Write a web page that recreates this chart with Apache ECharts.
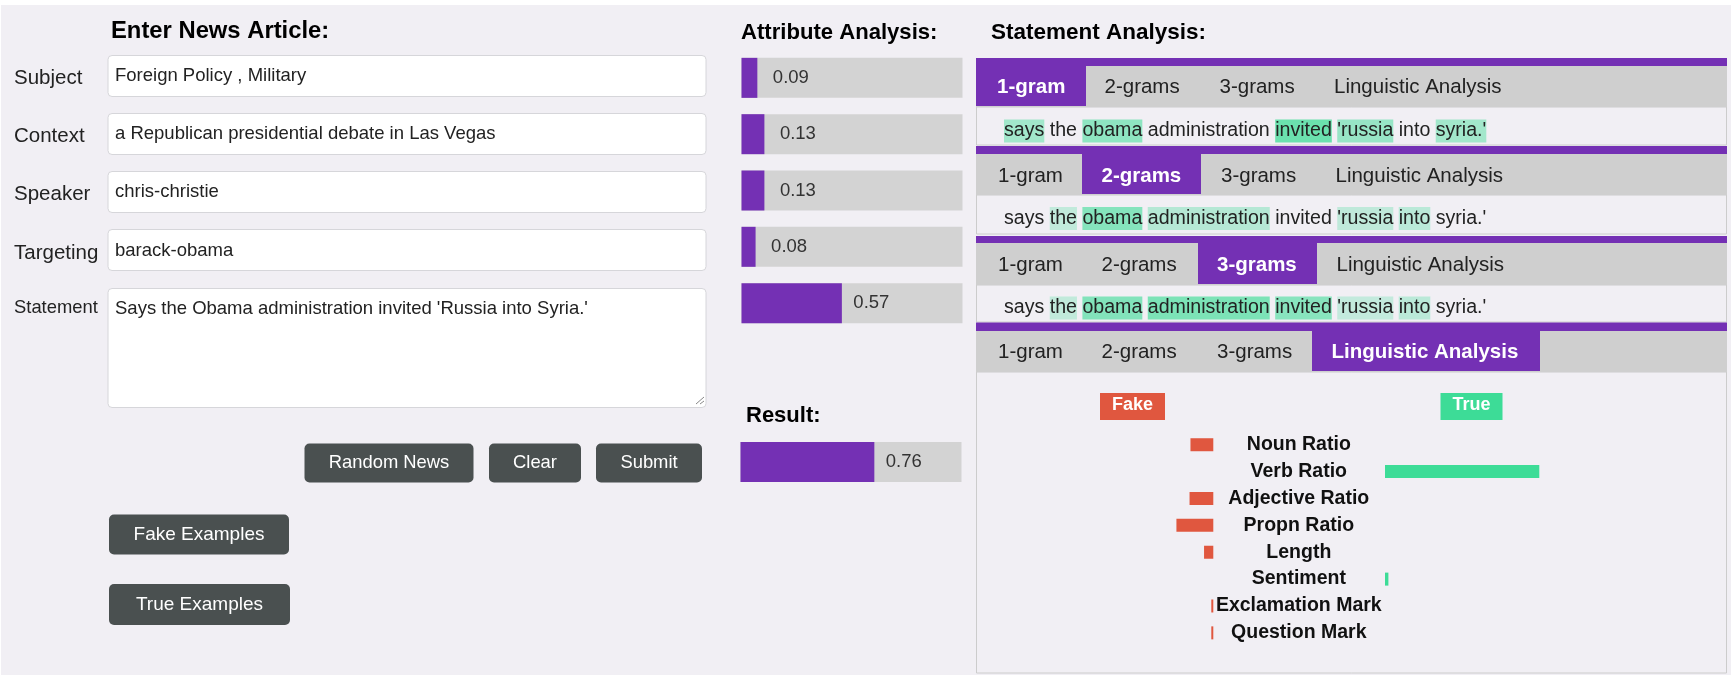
<!DOCTYPE html>
<html>
<head>
<meta charset="utf-8">
<title>Fake news analysis</title>
<script src="https://cdn.jsdelivr.net/npm/echarts@6/dist/echarts.min.js"></script>
<style>
    html, body { margin: 0; padding: 0; background: #fff; }
    #main { width: 1731px; height: 676px; }
</style>
</head>
<body>
<div id="main"></div>
<script>
var fieldLabels = ['Subject', 'Context', 'Speaker', 'Targeting', 'Statement'];
var fieldValues = ['Foreign Policy , Military', 'a Republican presidential debate in Las Vegas', 'chris-christie', 'barack-obama', "Says the Obama administration invited 'Russia into Syria.'"];

var attributeNames = ['Subject', 'Context', 'Speaker', 'Targeting', 'Statement'];
var attributeValues = [0.09, 0.13, 0.13, 0.08, 0.57];
var resultNames = ['Result'];
var resultValues = [0.76];

var tabNames = ['1-gram', '2-grams', '3-grams', 'Linguistic Analysis'];
var tokens = ['says', 'the', 'obama', 'administration', 'invited', "'russia", 'into', "syria.'"];
var oneGramWeights = [0.44, 0, 0.55, 0, 0.75, 0.5, 0, 0.44];
var twoGramWeights = [0, 0.27, 0.6, 0.33, 0, 0.28, 0.3, 0];
var threeGramWeights = [0, 0.27, 0.62, 0.65, 0.58, 0.25, 0.3, 0];

var featureNames = ['Noun Ratio', 'Verb Ratio', 'Adjective Ratio', 'Propn Ratio', 'Length', 'Sentiment', 'Exclamation Mark', 'Question Mark'];
var fakeValues = [0.148, 0, 0.154, 0.239, 0.06, 0, 0.013, 0.013];
var trueValues = [0, 1, 0, 0, 0, 0.022, 0, 0];

var FONT = '"Liberation Sans", Arial, sans-serif';
var PURPLE = '#7430b4';
var TRACK = '#d3d3d3';
var TAB_GRAY = '#cfcfcf';
var BUTTON = '#4a5050';
var PANEL = '#f1eff4';
var RED = '#e0573f';
var GREEN = '#3ddc97';

var shapes = [];

function box(x, y, w, h, fill, stroke, r) {
    shapes.push({
        type: 'rect',
        shape: {x: x, y: y, width: w, height: h, r: r || 0},
        style: {fill: fill, stroke: stroke || null, lineWidth: stroke ? 1 : 0},
        silent: true
    });
}

function label(text, x, y, size, color, bold, align) {
    shapes.push({
        type: 'text',
        x: x,
        y: y,
        style: {
            text: text,
            fill: color,
            fontFamily: FONT,
            fontSize: size,
            fontWeight: bold ? 'bold' : 'normal',
            align: align || 'left',
            verticalAlign: 'middle'
        },
        silent: true
    });
}

function button(text, x, y, w, h, size) {
    box(x, y, w, h, BUTTON, null, 5);
    label(text, x + w / 2, y + h / 2, size, '#fff', false, 'center');
}

// one row of tabs plus the highlighted sentence or empty panel below it
function tabBlock(top, stripEnd, grayEnd, bottom, activeIndex, activeX, activeW, textX, textY) {
    box(976.5, grayEnd, 750, bottom - grayEnd, PANEL, '#cccccc');
    box(976, top, 751, stripEnd - top, PURPLE);
    box(976, stripEnd, 751, grayEnd - stripEnd, TAB_GRAY);
    box(activeX, stripEnd, activeW, grayEnd - stripEnd - 1, PURPLE);
    for (var i = 0; i < tabNames.length; i++) {
        var active = i === activeIndex;
        label(tabNames[i], textX[i], textY, 20.5, active ? '#fff' : '#222', active);
    }
}

function sentence(weights, y) {
    var rich = {};
    var parts = [];
    for (var i = 0; i < tokens.length; i++) {
        var key = 't' + i;
        rich[key] = {fontFamily: FONT, fontSize: 19.6, fill: '#222', color: '#222', height: 23};
        if (weights[i] > 0) {
            rich[key].backgroundColor = 'rgba(61,220,151,' + weights[i] + ')';
        }
        parts.push('{' + key + '|' + tokens[i] + '}');
    }
    shapes.push({
        type: 'text',
        x: 1004,
        y: y,
        style: {
            text: parts.join(' '),
            rich: rich,
            fill: '#222',
            fontFamily: FONT,
            fontSize: 19.6,
            align: 'left',
            verticalAlign: 'middle'
        },
        silent: true
    });
}

// page background
box(1, 5, 1730, 670, PANEL);

// left column: the form
label('Enter News Article:', 111, 31, 23.8, '#000', true);
var fieldTops = [55, 113, 171, 229, 288];
var fieldHeights = [41, 41, 41, 41, 119];
var labelYs = [78, 136, 194, 253, 308];
var valueYs = [76, 134, 192, 251, 309];
for (var i = 0; i < fieldLabels.length; i++) {
    label(fieldLabels[i], 14, labelYs[i], i === 4 ? 18.4 : 20.5, '#222');
    box(108, fieldTops[i] + 0.5, 598, fieldHeights[i], '#fff', '#d6d6da', 4);
    label(fieldValues[i], 115, valueYs[i], 18.5, '#222');
}
// textarea resize grip
shapes.push({type: 'line', shape: {x1: 696, y1: 404, x2: 704, y2: 397}, style: {stroke: '#888', lineWidth: 1}, silent: true});
shapes.push({type: 'line', shape: {x1: 700, y1: 404, x2: 704, y2: 401}, style: {stroke: '#888', lineWidth: 1}, silent: true});

button('Random News', 304.5, 443.5, 169, 39, 18.4);
button('Clear', 489, 443.5, 92, 39, 18.4);
button('Submit', 596, 443.5, 106, 39, 18.4);
button('Fake Examples', 109, 514.5, 180, 40, 19);
button('True Examples', 109, 584, 181, 41, 19);

// middle column titles
label('Attribute Analysis:', 741, 33, 22.1, '#000', true);
label('Result:', 746, 416, 22, '#000', true);

// right column
label('Statement Analysis:', 991, 33, 22.5, '#000', true);
tabBlock(58, 66, 107, 145, 0, 976, 110, [997, 1104.5, 1219.5, 1334], 87.5);
tabBlock(146, 154, 195, 234, 1, 1082, 119, [998, 1101.5, 1221, 1335.5], 176);
tabBlock(236, 243, 285, 322, 2, 1198, 119, [998, 1101.5, 1217, 1336.5], 265);
tabBlock(322.5, 331, 372, 673, 3, 1312, 228, [998, 1101.5, 1217, 1331.5], 352.5);
sentence(oneGramWeights, 131);
sentence(twoGramWeights, 218.5);
sentence(threeGramWeights, 308);

// legend badges of the linguistic chart
box(1100, 393, 65, 27, RED);
label('Fake', 1132.5, 405, 18, '#fff', true, 'center');
box(1440.5, 393, 62, 27, GREEN);
label('True', 1471.5, 405, 18, '#fff', true, 'center');

function scoreSeries(values, xAxisIndex, yAxisIndex) {
    return {
        type: 'bar',
        xAxisIndex: xAxisIndex,
        yAxisIndex: yAxisIndex,
        barWidth: 40,
        silent: true,
        showBackground: true,
        backgroundStyle: {color: TRACK},
        itemStyle: {color: PURPLE},
        data: values.map(function (v) {
            return {
                value: v,
                label: {
                    show: true,
                    position: 'right',
                    distance: v < 0.5 ? 15.5 : 11.5,
                    formatter: v.toFixed(2),
                    color: '#333',
                    fontFamily: FONT,
                    fontSize: 18.5
                }
            };
        })
    };
}

function hiddenValueAxis(gridIndex, max, inverse) {
    return {type: 'value', gridIndex: gridIndex, min: 0, max: max, inverse: !!inverse, show: false};
}

function hiddenCategoryAxis(gridIndex, names) {
    return {type: 'category', gridIndex: gridIndex, data: names, inverse: true, show: false};
}

var chart = echarts.init(document.getElementById('main'));
chart.setOption({
    animation: false,
    graphic: {elements: shapes},
    grid: [
        {left: 741.5, top: 49.7, width: 221, height: 281.6},
        {left: 740.5, top: 441.7, width: 221, height: 40.6},
        {left: 1059, top: 431.3, width: 154.3, height: 215},
        {left: 1385, top: 431.3, width: 154.3, height: 215}
    ],
    xAxis: [
        hiddenValueAxis(0, 1.255),
        hiddenValueAxis(1, 1.255),
        hiddenValueAxis(2, 1, true),
        hiddenValueAxis(3, 1)
    ],
    yAxis: [
        hiddenCategoryAxis(0, attributeNames),
        hiddenCategoryAxis(1, resultNames),
        {
            type: 'category',
            gridIndex: 2,
            data: featureNames,
            inverse: true,
            position: 'right',
            axisLine: {show: false},
            axisTick: {show: false},
            axisLabel: {
                show: true,
                interval: 0,
                align: 'center',
                margin: 85.5,
                color: '#111',
                fontFamily: FONT,
                fontSize: 19.5,
                fontWeight: 'bold'
            }
        },
        hiddenCategoryAxis(3, featureNames)
    ],
    series: [
        scoreSeries(attributeValues, 0, 0),
        scoreSeries(resultValues, 1, 1),
        {
            type: 'bar',
            xAxisIndex: 2,
            yAxisIndex: 2,
            barWidth: 13,
            silent: true,
            itemStyle: {color: RED},
            data: fakeValues
        },
        {
            type: 'bar',
            xAxisIndex: 3,
            yAxisIndex: 3,
            barWidth: 13,
            silent: true,
            itemStyle: {color: GREEN},
            data: trueValues
        }
    ]
});
</script>
</body>
</html>
